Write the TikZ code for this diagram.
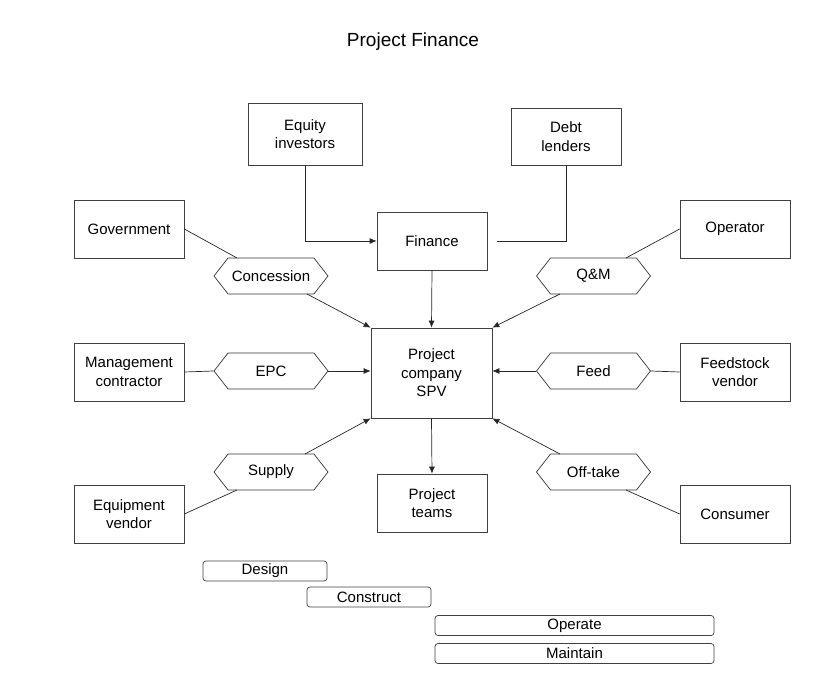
\documentclass[tikz,border=0pt]{standalone}
\usepackage{fontspec}
\setmainfont{Liberation Sans}
\usetikzlibrary{shapes.symbols,arrows.meta}
\begin{document}
\begin{tikzpicture}[x=1pt,y=-1pt,
  bx/.style={draw=black!75,line width=0.7pt,minimum width=110pt,minimum height=58pt,align=center,font=\fontsize{15}{18.5}\selectfont,inner sep=1pt},
  hx/.style={draw=black!80,line width=0.7pt,shape=signal,signal to=east and west,signal pointer angle=104,minimum width=114pt,minimum height=36pt,font=\fontsize{15}{18}\selectfont,inner sep=1pt},
  bar/.style={draw=black!75,line width=0.7pt,rounded corners=3pt,minimum height=20pt,font=\fontsize{15}{18}\selectfont,inner sep=0pt},
  ln/.style={black!85,line width=0.7pt},
  ar/.style={ln,-{Latex[length=7pt,width=6pt]}}]
\useasboundingbox (0,0) rectangle (823,676);
\node[font=\fontsize{19}{22}\selectfont] (title) at (413,42) {Project Finance};
\node[bx,minimum width=114pt,minimum height=62pt] (eq) at (305,134) {Equity\\investors};
\node[bx,minimum height=57pt] (debt) at (566,136.5) {Debt\\lenders};
\node[bx] (fin) at (432,241) {Finance};
\node[bx] (gov) at (129,229) {Government};
\node[bx] (op) at (735,229) {Operator};
\node[hx] (con) at (271,276) {Concession};
\node[hx] (qm) at (593.5,276) {Q\&M};
\node[bx] (mc) at (129,372) {Management\\contractor};
\node[hx] (epc) at (271,371) {EPC};
\node[bx,minimum width=121pt,minimum height=90pt] (spv) at (431.5,373) {Project\\company\\SPV};
\node[hx] (feed) at (593.5,371) {Feed};
\node[bx] (fv) at (735,372) {Feedstock\\vendor};
\node[hx] (sup) at (271,472) {Supply};
\node[hx] (off) at (593.5,472) {Off-take};
\node[bx] (ev) at (129,514) {Equipment\\vendor};
\node[bx] (pt) at (432,503) {Project\\teams};
\node[bx] (cons) at (735,514) {Consumer};
\node[bar,minimum width=124pt] (des) at (265,571) {Design};
\node[bar,minimum width=124pt] (cst) at (369,597) {Construct};
\node[bar,minimum width=279pt] (opr) at (574.5,625.5) {Operate};
\node[bar,minimum width=279pt] (mnt) at (574.5,653.5) {Maintain};
\coordinate (dend) at (497,241);
% connectors
\draw[ar] (eq.south) |- (fin.west);
\draw[ln] (debt.south) |- (dend);
\draw[ar] (fin.south) -- (spv.north);
\draw[ln] (gov.east) -- (237,258);
\draw[ar] (307,294) -- (spv.north west);
\draw[ln] (op.west) -- (626,258);
\draw[ar] (560,294) -- (spv.north east);
\draw[ln] (mc.east) -- (epc.west);
\draw[ar] (epc.east) -- (spv.west |- epc.east);
\draw[ln] (fv.west) -- (feed.east);
\draw[ar] (feed.west) -- (spv.east |- feed.west);
\draw[ln] (ev.east) -- (237,490);
\draw[ar] (305,454) -- (spv.south west);
\draw[ln] (cons.west) -- (626,490);
\draw[ar] (560,454) -- (spv.south east);
\draw[ar] (spv.south) -- (pt.north);
\end{tikzpicture}
\end{document}
